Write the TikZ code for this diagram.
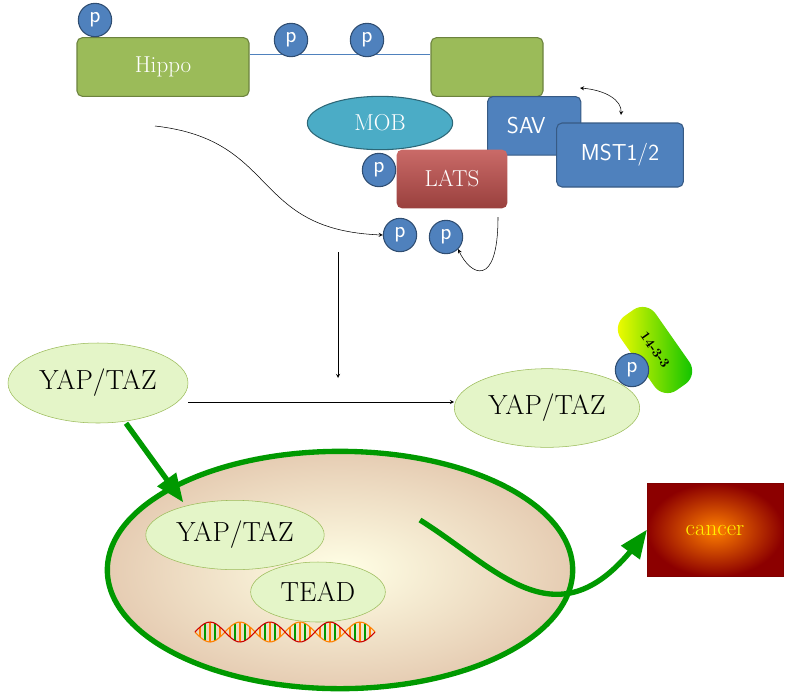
\documentclass[tikz,border=0pt]{standalone}
\usetikzlibrary{shapes.geometric, arrows, positioning, calc}
\definecolor{hipgreen}{HTML}{9BBB59}
\definecolor{mobcyan}{HTML}{4BACC6}
\definecolor{savblue}{HTML}{4F81BD}
\definecolor{latsred}{HTML}{C0504D}
\definecolor{yapfill}{HTML}{E4F5C8}
\tikzstyle{kinase} = [rectangle, rounded corners=4pt, draw=hipgreen!70!black, thick, fill=hipgreen, text=white, font=\LARGE]
\tikzstyle{blue box} = [rectangle, rounded corners=4pt, draw=savblue!70!black, thick, fill=savblue, text=white, font=\sffamily\LARGE]
\tikzstyle{phos} = [circle, draw=savblue!60!black, thick, fill=savblue, text=white, font=\sffamily\LARGE, inner sep=0pt, minimum size=25pt]
\tikzstyle{yap} = [ellipse, draw=hipgreen, fill=yapfill, font=\huge]
\tikzstyle{arrow} = [->,>=stealth]
\tikzstyle{green arrow} = [line width=4pt, draw=green!60!black, -{triangle 45}]

\begin{document}
\begin{tikzpicture}[x=0.75pt, y=-0.75pt]
\useasboundingbox (0,0) rectangle (785,697);

% Hippo complex
\node (hippo) [kinase, minimum width=129pt, minimum height=44pt] at (163,67) {Hippo};
\node (hippo2) [kinase, minimum width=84pt, minimum height=44pt] at (487,67) {};
\draw [savblue] (hippo.east |- 0,54) -- (hippo2.west |- 0,54);
\node (p1) [phos] at (95,20) {p};
\node (p2) [phos] at (291,40) {p};
\node (p3) [phos] at (367,40) {p};

\node (mob) [ellipse, draw=mobcyan!60!black, thick, fill=mobcyan, text=white, font=\LARGE, minimum width=109pt, minimum height=40pt] at (380,123) {MOB};
\node (sav) [blue box, minimum width=70pt, minimum height=44pt, anchor=north west, align=left] at (487,96) {SAV\hspace{12pt}};
\node (mst) [blue box, minimum width=95pt, minimum height=48pt] at (620,155) {MST1/2};
\node (lats) [rectangle, rounded corners=4pt, top color=latsred!85!white, bottom color=latsred!80!black, text=white, font=\LARGE, minimum width=83pt, minimum height=44pt] at (452,179) {LATS};
\node (p4) [phos] at (379,170) {p};
\node (p5) [phos] at (400,235) {p};
\node (p6) [phos] at (446,237) {p};

\coordinate (hstart) at (155,126);
\coordinate (lend) at (498,217);
\draw [arrow] (hstart) .. controls (280,140) and (250,230) .. (p5.west);
\draw [arrow] (lend) .. controls (498,290) and (470,275) .. (p6.south east);
\coordinate (sm1) at (580,88);
\coordinate (sm2) at (621,115);
\draw [arrow, <->] (sm1) .. controls (605,90) and (622,100) .. (sm2);

% YAP/TAZ
\node (yapl) [yap, minimum width=135pt, minimum height=60pt] at (98,383) {YAP/TAZ};
\node (yapr) [yap, minimum width=139pt, minimum height=59pt] at (547,408) {YAP/TAZ};
\node (f1433) [rotate=-55, rounded corners=12pt, left color=yellow, right color=green!75!black, minimum width=68pt, minimum height=32pt, font=\bfseries] at (655,350) {14-3-3};
\node (p7) [phos] at (632,370) {p};
\coordinate (vtop) at (338,252);
\draw [arrow] (vtop) -- (338,378);
\draw [arrow] (yapl.east |- 0,402) -- (yapr.west |- 0,402);

% nucleus
\node (nuc) [ellipse, draw=green!60!black, line width=4pt, inner color=yellow!10!white, outer color=brown!40!white, minimum width=349pt, minimum height=178pt] at (340,570) {};
\node (yapn) [yap, minimum width=113pt, minimum height=52pt] at (235,535) {YAP/TAZ};
\node (tead) [yap, minimum width=101pt, minimum height=45pt] at (318,592) {TEAD};
% DNA
\coordinate (dna) at (195,632);
\foreach \i in {0,5,...,180} {
  \pgfmathtruncatemacro{\k}{mod(\i,10)}
  \ifnum\k=0 \def\rung{green!60!black}\else \def\rung{orange}\fi
  \draw [line width=1.2pt, color=\rung]
    ($(dna)+(\i,{10*sin(\i*6)})$) -- ($(dna)+(\i,{-10*sin(\i*6)})$);
}
\draw [orange, thick, domain=0:180, samples=60] plot ({195+\x},{632+10*sin(\x*6)});
\draw [red!80!black, thick, domain=0:180, samples=60] plot ({195+\x},{632-10*sin(\x*6)});

\node (cancer) [rectangle, draw=red!50!black, inner color=orange, outer color=red!55!black, text=yellow, font=\LARGE, minimum width=102pt, minimum height=70pt] at (715,530) {cancer};

\draw [green arrow] (yapl.south) ++(28,0) -- (183,502);
\draw [green arrow] (420,520) .. controls (500,570) and (560,650) .. (cancer.west);
\end{tikzpicture}
\end{document}
